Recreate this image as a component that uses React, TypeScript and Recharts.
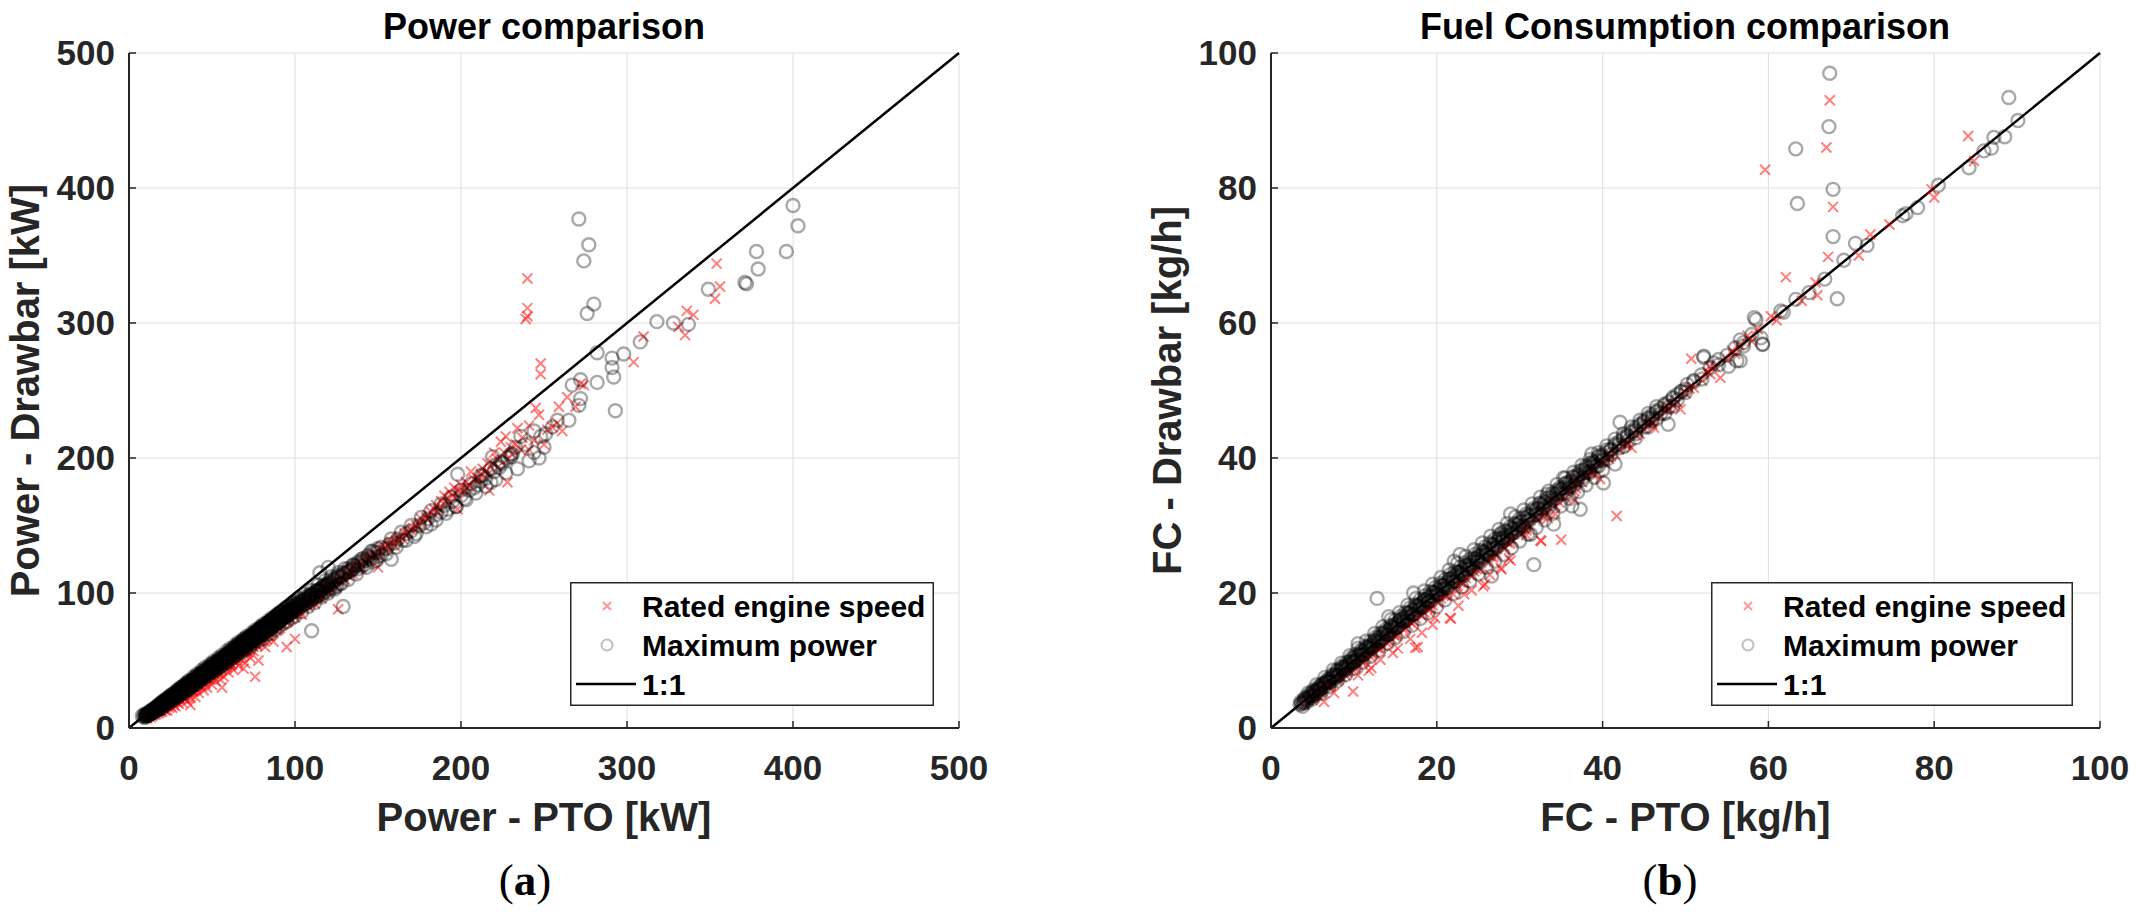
import React from "react";
import {
  ScatterChart,
  Scatter,
  XAxis,
  YAxis,
  CartesianGrid,
  ReferenceLine,
  Legend,
} from "recharts";

const FONT = '"Liberation Sans", Arial, Helvetica, sans-serif';
const AXIS_COLOR = "#262626";

const POWER_TICKS = [0, 100, 200, 300, 400, 500];
const FC_TICKS = [0, 20, 40, 60, 80, 100];
const LEGEND_LABELS = ["Rated engine speed", "Maximum power", "1:1"];

// [PTO, Drawbar] in kW
const POWER_RATED: [number, number][] = [
  [10, 8], [11, 7], [12, 9], [13, 8], [14, 11], [14, 9], [15, 10], [16, 12], [16, 10], [17, 11],
  [18, 13], [18, 11], [19, 12], [20, 15], [20, 12], [21, 14], [22, 16], [22, 13], [23, 13], [24, 18],
  [24, 15], [25, 16], [26, 15], [26, 20], [27, 19], [27, 17], [28, 16], [29, 22], [29, 19], [30, 18],
  [30, 24], [31, 21], [32, 19], [32, 25], [33, 26], [33, 22], [34, 22], [35, 20], [35, 28], [36, 25],
  [36, 29], [37, 22], [37, 17], [38, 30], [38, 27], [39, 27], [40, 23], [40, 33], [41, 29], [41, 35],
  [42, 26], [43, 35], [43, 31], [44, 31], [45, 28], [45, 38], [46, 33], [46, 36], [47, 30], [48, 40],
  [48, 36], [49, 36], [50, 32], [50, 42], [51, 38], [52, 35], [52, 44], [53, 44], [54, 40], [55, 36],
  [55, 47], [56, 30], [56, 43], [57, 38], [58, 49], [59, 45], [60, 41], [60, 52], [61, 48], [62, 47],
  [63, 43], [64, 55], [65, 50], [66, 46], [67, 57], [68, 53], [69, 44], [70, 48], [70, 60], [71, 55],
  [72, 56], [73, 52], [74, 63], [75, 57], [76, 66], [76, 38], [77, 62], [78, 50], [79, 68], [80, 64],
  [81, 71], [82, 60], [83, 73], [84, 68], [85, 76], [86, 70], [87, 64], [88, 78], [90, 73], [91, 80],
  [92, 76], [94, 83], [95, 60], [96, 79], [98, 86], [100, 82], [100, 66], [102, 88], [104, 84], [106, 92],
  [108, 90], [110, 94], [112, 92], [114, 100], [116, 96], [118, 104], [120, 100], [122, 108], [125, 104], [126, 88],
  [128, 112], [130, 110], [132, 116], [135, 114], [137, 121], [140, 118], [143, 126], [145, 124], [148, 128], [150, 119],
  [152, 134], [155, 131], [158, 138], [160, 135], [163, 142], [165, 140], [168, 145], [170, 147], [173, 150], [176, 155],
  [180, 158], [182, 160], [185, 165], [188, 168], [190, 172], [193, 175], [196, 178], [198, 162], [200, 180], [203, 182],
  [206, 190], [210, 185], [213, 192], [216, 196], [217, 176], [220, 204], [224, 212], [227, 216], [228, 182], [231, 203],
  [234, 222], [239, 303], [240, 305], [240, 311], [240, 333], [241, 224], [241, 206], [245, 237], [247, 232], [248, 262],
  [248, 270], [250, 210], [255, 223], [259, 238], [261, 220], [264, 245], [269, 238], [272, 255], [274, 254], [304, 271],
  [310, 290], [331, 297], [335, 291], [336, 309], [340, 306], [353, 318], [354, 344], [356, 327],
];

// red crosses hidden inside the dense part of the band
const POWER_RATED_BAND: [number, number][] = [
  [12, 10], [14, 12], [15, 12], [17, 13], [19, 15], [21, 16], [23, 17], [25, 19], [27, 21], [28, 20],
  [30, 22], [31, 24], [33, 24], [34, 27], [36, 27], [38, 28], [39, 31], [41, 31], [42, 33], [44, 34],
  [46, 35], [47, 37], [49, 38], [51, 40], [53, 41], [54, 43], [56, 44], [58, 45], [59, 47], [61, 46],
  [63, 50], [65, 52], [67, 51], [69, 55], [71, 57], [73, 58], [75, 60], [77, 61], [79, 63], [81, 65],
  [83, 66], [85, 68], [87, 71], [89, 72], [91, 74], [93, 77], [95, 78], [97, 81], [99, 84], [101, 85],
  [103, 87], [105, 89], [107, 91], [109, 93], [111, 95], [113, 97], [115, 99], [117, 102], [119, 103], [121, 105],
  [123, 107], [127, 110], [131, 114], [134, 118], [138, 120], [142, 123], [146, 127], [150, 131], [154, 134], [157, 137],
  [161, 139], [166, 144], [171, 148], [175, 152], [179, 156], [184, 162], [187, 163], [192, 170], [195, 172], [199, 176],
  [202, 175], [205, 180], [208, 184], [212, 188], [215, 190], [219, 196], [222, 199], [226, 204], [230, 208], [233, 210],
  [237, 215], [62, 52], [66, 57], [72, 62], [78, 66], [84, 72], [90, 78], [96, 83], [102, 87], [108, 94],
  [114, 97], [120, 104], [126, 109], [132, 113], [138, 119], [144, 125], [150, 128], [156, 135], [162, 140], [168, 144],
  [174, 149], [180, 155], [186, 160], [192, 166], [198, 172], [204, 178], [210, 183], [216, 188], [222, 193], [228, 199],
  [236, 206], [244, 213], [252, 221], [258, 226],
];

const POWER_MAX: [number, number][] = [
  [8, 9], [9, 8], [9, 10], [10, 10], [10, 8], [11, 9], [11, 11], [12, 11], [12, 10], [13, 11],
  [13, 13], [14, 12], [14, 13], [15, 13], [15, 14], [16, 14], [16, 13], [17, 15], [17, 16], [18, 16],
  [18, 15], [19, 17], [19, 16], [20, 18], [20, 16], [21, 19], [21, 18], [22, 19], [22, 20], [23, 21],
  [23, 19], [24, 21], [24, 20], [25, 23], [25, 21], [26, 23], [26, 22], [27, 24], [27, 23], [28, 25],
  [28, 23], [29, 26], [29, 24], [30, 27], [30, 25], [31, 28], [31, 26], [32, 28], [32, 30], [33, 29],
  [33, 27], [34, 31], [34, 29], [35, 32], [35, 30], [36, 32], [36, 30], [37, 33], [37, 31], [38, 34],
  [38, 32], [39, 35], [39, 33], [40, 36], [40, 34], [41, 37], [41, 35], [42, 38], [42, 36], [43, 38],
  [43, 40], [44, 40], [44, 38], [45, 41], [45, 39], [46, 41], [46, 40], [47, 43], [47, 41], [48, 43],
  [48, 41], [49, 44], [49, 42], [50, 46], [50, 44], [51, 46], [51, 44], [52, 47], [52, 45], [53, 48],
  [53, 46], [54, 49], [54, 47], [55, 50], [55, 48], [56, 51], [56, 49], [57, 52], [57, 50], [58, 53],
  [58, 51], [59, 54], [59, 52], [60, 55], [60, 53], [61, 56], [62, 55], [62, 57], [63, 58], [64, 57],
  [64, 59], [65, 60], [66, 59], [66, 61], [67, 61], [68, 60], [68, 63], [69, 63], [70, 62], [70, 64],
  [71, 65], [72, 63], [72, 66], [73, 66], [74, 66], [74, 68], [75, 68], [76, 67], [76, 70], [77, 70],
  [78, 69], [78, 71], [79, 71], [80, 72], [80, 70], [81, 74], [82, 72], [83, 75], [84, 76], [84, 73],
  [85, 76], [86, 78], [87, 77], [88, 80], [88, 77], [89, 79], [90, 82], [91, 80], [92, 83], [93, 84],
  [94, 83], [95, 86], [96, 85], [97, 87], [98, 88], [99, 86], [100, 90], [101, 89], [102, 92], [104, 91],
  [105, 94], [106, 92], [108, 95], [109, 97], [110, 96], [110, 72], [112, 99], [113, 98], [115, 101], [115, 115],
  [117, 103], [119, 105], [120, 107], [120, 119], [122, 106], [124, 109], [126, 111], [128, 112], [129, 90], [131, 115],
  [133, 116], [135, 118], [138, 121], [140, 120], [142, 124], [145, 126], [147, 123], [150, 130], [152, 128], [155, 133],
  [157, 136], [158, 125], [160, 137], [162, 140], [165, 139], [167, 144], [170, 146], [172, 142], [175, 150], [178, 152],
  [180, 155], [182, 151], [185, 158], [188, 160], [190, 165], [192, 162], [195, 168], [197, 164], [198, 188], [200, 172],
  [202, 170], [205, 176], [208, 178], [210, 180], [212, 183], [213, 187], [215, 185], [218, 182], [219, 201], [220, 190],
  [222, 195], [223, 193], [225, 196], [228, 200], [230, 203], [231, 203], [233, 208], [234, 192], [236, 216], [239, 210],
  [241, 198], [244, 204], [244, 220], [247, 200], [248, 216], [250, 208], [251, 218], [255, 223], [258, 228], [265, 228],
  [267, 254], [271, 239], [272, 244], [272, 258], [274, 346], [276, 307], [280, 314], [271, 377], [277, 358], [282, 256],
  [282, 278], [291, 274], [291, 267], [292, 260], [293, 235], [298, 277], [308, 286], [318, 301], [328, 300], [337, 299],
  [349, 325], [371, 330], [372, 329], [378, 353], [379, 340], [396, 353], [400, 387], [403, 372],
];

// circles that make the solid black part of the band
const POWER_MAX_BAND: [number, number][] = [
  [10, 9.5], [10.5, 9], [11, 10.5], [11.5, 10], [12, 11.5], [12.5, 10.5], [13, 12], [13.5, 12.5], [14, 11.5], [14.5, 13.5],
  [15, 14], [15.5, 13], [16, 15], [16.5, 14.5], [17, 14], [17.5, 16.5], [18, 17], [18.5, 15.5], [19, 18], [19.5, 17],
  [20, 19], [20.5, 17.5], [21, 20], [21.5, 18.5], [22, 21], [22.5, 19.5], [23, 22], [23.5, 20], [24, 23], [24.5, 21.5],
  [25, 24], [25.5, 22], [26, 24.5], [26.5, 23], [27, 25.5], [27.5, 24], [28, 26.5], [28.5, 24.5], [29, 27.5], [29.5, 25.5],
  [30, 28.5], [30.5, 26], [31, 29], [31.5, 27.5], [32, 30.5], [32.5, 28], [33, 31], [33.5, 29.5], [34, 32], [34.5, 30],
  [35, 33], [35.5, 31], [36, 34], [36.5, 32], [37, 35], [37.5, 33], [38, 35.5], [38.5, 33.5], [39, 36.5], [39.5, 34.5],
  [40, 37.5], [40.5, 35], [41, 38.5], [41.5, 36.5], [42, 39], [42.5, 37], [43, 40.5], [43.5, 38], [44, 41.5], [44.5, 39],
  [45, 42], [45.5, 40], [46, 43], [46.5, 41], [47, 44], [47.5, 42], [48, 45], [48.5, 42.5], [49, 46], [49.5, 43.5],
  [50, 47], [50.5, 44.5], [51, 48], [51.5, 45], [52, 48.5], [52.5, 46], [53, 49.5], [53.5, 47], [54, 50.5], [54.5, 48],
  [55, 51.5], [55.5, 48.5], [56, 52], [56.5, 49.5], [57, 53], [57.5, 50.5], [58, 54], [58.5, 51], [59, 55], [59.5, 52.5],
  [60, 56], [60.5, 53], [61, 57], [61.5, 54], [62, 58], [62.5, 55], [63, 59], [63.5, 56], [64, 60], [64.5, 56.5],
  [65, 61], [65.5, 57.5], [66, 62], [66.5, 58.5], [67, 63], [67.5, 59], [68, 64], [68.5, 60], [69, 65], [69.5, 61],
  [70, 66], [70.5, 61.5], [71, 66.5], [71.5, 62.5], [72, 67.5], [72.5, 63.5], [73, 68], [73.5, 64.5], [74, 69], [74.5, 65],
  [75, 70], [75.5, 66], [76, 71], [76.5, 67], [77, 72], [77.5, 68], [78, 73], [78.5, 68.5], [79, 74], [79.5, 69.5],
  [80, 75], [80.5, 70.5], [81, 75.5], [81.5, 71], [82, 76.5], [82.5, 72], [83, 77.5], [83.5, 73], [84, 78], [84.5, 74],
  [85, 79], [85.5, 75], [86, 80], [86.5, 75.5], [87, 81], [87.5, 76.5], [88, 82], [88.5, 77.5], [89, 83], [89.5, 78],
  [90, 84], [90.5, 79], [91, 84.5], [91.5, 80], [92, 85.5], [92.5, 81], [93, 86.5], [93.5, 81.5], [94, 87], [94.5, 82.5],
  [95, 88], [95.5, 83.5], [96, 89], [96.5, 84], [97, 90], [97.5, 85], [98, 91], [98.5, 86], [99, 91.5], [99.5, 87],
  [100, 92.5], [101, 88], [102, 94], [103, 89.5], [104, 95], [105, 91], [106, 96.5], [107, 92.5], [108, 98], [109, 94],
  [110, 99.5], [111, 95.5], [112, 101], [113, 97], [114, 102], [115, 98.5], [116, 104], [117, 100], [118, 105], [119, 101.5],
  [120, 106], [121, 103], [122, 108], [123, 104], [124, 110], [125, 105], [126, 112], [127, 107], [128, 113], [130, 114],
  [132, 116], [134, 117], [136, 120], [138, 118], [140, 123], [142, 121], [144, 127], [146, 125], [148, 130], [150, 127],
];

// the upper and lower edges of the black band
const POWER_MAX_SPREAD: [number, number][] = [
  [15, 11.5], [16, 15.5], [18, 14], [19, 18.5], [20, 14.5], [21, 20.5], [23, 18], [24, 22.5], [25, 20], [26, 25],
  [28, 22], [29, 28], [30, 23.5], [31, 30], [33, 26], [34, 33], [35, 28], [36, 35], [38, 31], [39, 38],
  [40, 32], [41, 40], [43, 35], [44, 43], [45, 37], [46, 45], [48, 39], [49, 47.5], [50, 41], [51, 49.5],
  [53, 43.5], [54, 52], [55, 45], [56, 54], [58, 47.5], [59, 57], [60, 49], [61, 59], [63, 52], [64, 61.5],
  [65, 54], [66, 63.5], [68, 56], [69, 66], [70, 58], [71, 68], [73, 60], [74, 70.5], [75, 62], [76, 72.5],
  [78, 64.5], [79, 75], [80, 66], [81, 77], [83, 69], [84, 79.5], [85, 70], [86, 81.5], [88, 73], [89, 84],
  [90, 75], [91, 86], [93, 77.5], [94, 88.5], [95, 79], [96, 90], [98, 81.5], [99, 93], [100, 83], [102, 96],
  [104, 86], [106, 99], [108, 90], [110, 102], [112, 93], [114, 106], [116, 97], [118, 109], [120, 100], [122, 112],
  [124, 103], [126, 115], [128, 107], [130, 118], [132, 110], [135, 121], [137, 114], [140, 125], [143, 119], [146, 131],
  [149, 124], [152, 134], [155, 129], [158, 140], [161, 134], [164, 145], [167, 139], [170, 150], [173, 144], [176, 156],
  [179, 149], [182, 161], [185, 154], [188, 166], [191, 159], [194, 171], [197, 164], [200, 176], [203, 169], [206, 181],
  [209, 174], [212, 187], [215, 179], [218, 192], [221, 184], [224, 197], [227, 189], [230, 201],
];

// circles filling the middle of the band
const POWER_MAX_CORE: [number, number][] = [
  [10.2, 9.1], [11.2, 9.8], [12.2, 10.9], [13.2, 11.6], [14.2, 12.7], [15.2, 13.4], [16.2, 14.5], [17.2, 15.2], [18.2, 16.3], [19.2, 17.1],
  [20.2, 18.1], [21.2, 18.9], [22.2, 19.9], [23.2, 20.6], [24.2, 21.7], [25.2, 22.4], [26.2, 23.5], [27.2, 24.2], [28.2, 25.3], [29.2, 26.1],
  [30.2, 27.1], [31.2, 27.9], [32.2, 28.9], [33.2, 29.7], [34.2, 30.7], [35.2, 31.4], [36.2, 32.5], [37.2, 33.2], [38.2, 34.3], [39.2, 35],
  [40.2, 36.1], [41.2, 36.8], [42.2, 37.9], [43.2, 38.6], [44.2, 39.7], [45.2, 40.4], [46.2, 41.5], [47.2, 42.2], [48.2, 43.3], [49.2, 44],
  [50.2, 45.1], [51.2, 45.8], [52.2, 46.9], [53.2, 47.6], [54.2, 48.7], [55.2, 49.4], [56.2, 50.5], [57.2, 51.2], [58.2, 52.3], [59.2, 53],
  [60.2, 54.1], [61.2, 54.8], [62.2, 55.9], [63.2, 56.6], [64.2, 57.7], [65.2, 58.4], [66.2, 59.5], [67.2, 60.2], [68.2, 61.3], [69.2, 62],
  [70.2, 63.1], [71.2, 63.8], [72.2, 64.9], [73.2, 65.6], [74.2, 66.7], [75.2, 67.4], [76.2, 68.5], [77.2, 69.2], [78.2, 70.3], [79.2, 71],
  [80.2, 72.1], [81.2, 72.8], [82.2, 73.9], [83.2, 74.6], [84.2, 75.7], [85.2, 76.4], [86.2, 77.5], [87.2, 78.2], [88.2, 79.3], [89.2, 80],
  [90.2, 81.1], [91.2, 81.8], [92.2, 82.9], [93.2, 83.6], [94.2, 84.7], [95.2, 85.4], [96.2, 86.5], [97.2, 87.2], [98.2, 88.3], [99.2, 89],
  [100.5, 90.5], [102.5, 92], [104.5, 94], [106.5, 95.5], [108.5, 97.5], [110.5, 99], [112.5, 101], [114.5, 102.5], [116.5, 104.5], [118.5, 106],
  [120.5, 108], [123, 110], [126, 113], [129, 115], [132, 118], [135, 120.5], [138, 123], [141, 125.5], [144, 128], [147, 131],
  [150, 133], [12, 9.5], [14, 11], [16, 12.5], [18, 14], [20, 15.5], [22, 17.5], [24, 19], [26, 20.5], [28, 22.5],
  [30, 24], [32, 25.5], [34, 27], [36, 29], [38, 30.5], [40, 32.5], [42, 34], [44, 36], [46, 37.5], [48, 39.5],
  [50, 41.5], [52, 43], [54, 45], [56, 46.5], [58, 48.5], [60, 50.5], [62, 52], [64, 54], [66, 56], [68, 57.5],
  [70, 59.5], [72, 61.5], [74, 63], [76, 65], [78, 67], [80, 68.5], [82, 70.5], [84, 72.5], [86, 74], [88, 76],
  [90, 78],
];

const POWER_MAX_FILL: [number, number][] = [
  [10.7, 9.7], [11.7, 10.3], [12.7, 11.4], [13.7, 11.9], [14.7, 13.2], [15.7, 13.8], [16.7, 15], [17.7, 15.5], [18.7, 16.8], [19.7, 17.3],
  [20.7, 18.6], [21.7, 19.1], [22.7, 20.4], [23.7, 20.8], [24.7, 22.2], [25.7, 22.6], [26.7, 24], [27.7, 24.4], [28.7, 25.8], [29.7, 26.1],
  [30.7, 27.6], [31.7, 27.9], [32.7, 29.4], [33.7, 29.7], [34.7, 31.2], [35.7, 31.4], [36.7, 33], [37.7, 33.2], [38.7, 34.8], [39.7, 34.9],
  [40.7, 36.6], [41.7, 36.7], [42.7, 38.4], [43.7, 38.5], [44.7, 40.2], [45.7, 40.2], [46.7, 42], [47.7, 42], [48.7, 43.8], [49.7, 43.7],
  [50.7, 45.6], [51.7, 45.5], [52.7, 47.4], [53.7, 47.3], [54.7, 49.2], [55.7, 49], [56.7, 51], [57.7, 50.8], [58.7, 52.8], [59.7, 52.5],
  [60.7, 54.6], [61.7, 54.3], [62.7, 56.4], [63.7, 56.1], [64.7, 58.2], [65.7, 57.8], [66.7, 60], [67.7, 59.6], [68.7, 61.8], [69.7, 61.3],
  [70.7, 63.6], [71.7, 63.1], [72.7, 65.4], [73.7, 64.9], [74.7, 67.2], [75.7, 66.6], [76.7, 69], [77.7, 68.4], [78.7, 70.8], [79.7, 70.1],
  [80.7, 72.6], [81.7, 71.9], [82.7, 74.4], [83.7, 73.7], [84.7, 76.2], [85.7, 75.4], [86.7, 78], [87.7, 77.2], [88.7, 79.8], [89.7, 78.9],
  [90.7, 81.6], [91.7, 80.7], [92.7, 83.4], [93.7, 82.5], [94.7, 85.2], [95.7, 84.2], [96.7, 87], [97.7, 86], [98.7, 88.8], [99.7, 87.7],
  [101.5, 91], [103.5, 92], [105.5, 94.5], [107.5, 95.5], [109.5, 98], [111.5, 99], [113.5, 101.5], [115.5, 102.5], [117.5, 105], [119.5, 106],
];

// [PTO, Drawbar] in kg/h
const FC_RATED: [number, number][] = [
  [4, 3.5], [5, 4.2], [5.5, 4.9], [6, 5.2], [6.4, 3.9], [7, 6.1], [7.6, 5.2], [8, 7], [8.5, 7.5], [9, 7.8],
  [9.5, 8.5], [9.9, 5.4], [10, 8.9], [10.5, 9.4], [10.5, 7.8], [11, 9.8], [11.5, 10.4], [11.8, 8.5], [12, 10.6], [12.1, 8.9],
  [12.5, 11.2], [13, 11.8], [13.2, 10.1], [13.5, 12.1], [14, 12.6], [14.5, 13.3], [14.7, 11.1], [15, 13.6], [15.3, 11.8], [15.5, 14.2],
  [16, 14.6], [16.5, 15.2], [16.8, 13.2], [17, 15.5], [17.4, 11.9], [17.7, 12], [17.5, 16.2], [18, 16.8], [18.2, 14.1], [18.5, 17.1],
  [19, 17.8], [19.5, 15.3], [19.5, 18.2], [19.8, 16.3], [20, 18.8], [20.5, 19.2], [21, 19.7], [21.6, 16.3], [21.7, 16.2], [22, 19.8],
  [22.5, 21.1], [22.6, 18.1], [23, 21.6], [23.3, 19.8], [23.5, 22.2], [24, 22.7], [24.2, 20.4], [24.5, 23.2], [25, 23.8], [25.6, 21],
  [25.8, 21.3], [26, 24.8], [26.4, 22.7], [26.5, 25.4], [27, 25.9], [27.7, 23.7], [27.8, 23.5], [28, 26.9], [28.5, 27.5], [28.7, 25.1],
  [28.9, 24.8], [29, 28], [30, 29], [30.5, 29.6], [30.8, 28.6], [31, 30.1], [32, 31.2], [32.5, 27.8], [32.6, 27.7], [33, 32.3],
  [33.4, 31.1], [34, 33.3], [34.3, 31.7], [35, 27.9], [35, 34.3], [36, 35.3], [36.6, 33.8], [37, 36.2], [38, 37.3], [38.5, 37.9],
  [39, 38.4], [39.7, 36.9], [40, 39.4], [41, 40.3], [41.7, 31.4], [42, 41.3], [43, 42.3], [43.5, 41.5], [44, 43.4], [45, 44.3],
  [46, 45.3], [46.2, 44.5], [47, 46.2], [47.8, 47.1], [48, 47.4], [49, 48.3], [49.4, 47.2], [50, 49.6], [50.7, 54.7], [51, 50.4],
  [52, 51.5], [52.6, 52.8], [52.9, 53.6], [53, 52.4], [54.2, 51.9], [55, 54.5], [55.6, 55.9], [56, 55.4], [57.5, 58.1], [58, 57.3],
  [58.7, 59.1], [59.6, 82.7], [60.3, 61], [61, 60.4], [62.1, 66.8], [64, 63.3], [65.7, 66], [65.9, 64.1], [67, 86], [67.2, 69.8],
  [67.4, 93], [67.8, 77.2], [70.9, 70], [72.3, 73.1], [74.6, 74.6], [79.7, 79.8], [80, 78.6], [84.1, 87.7], [84.8, 84],
];

const FC_RATED_BAND: [number, number][] = [
  [5.2, 4.5], [6.2, 5.4], [7.2, 6.3], [8.2, 7.2], [9.2, 8.2], [10.2, 9], [11.2, 9.9], [12.2, 10.9], [13.2, 11.8], [14.2, 12.8],
  [15.2, 13.7], [16.2, 14.8], [17.2, 15.8], [18.2, 16.6], [19.2, 17.6], [20.2, 18.5], [21.2, 19.6], [22.2, 20.5], [23.2, 21.4], [24.2, 22.6],
  [25.2, 23.5], [26.2, 24.6], [27.2, 25.6], [28.2, 26.6], [29.2, 27.7], [30.2, 28.8], [31.2, 29.9], [32.2, 30.9], [33.2, 31.8], [34.2, 32.9],
  [35.5, 34.1], [36.5, 35.2], [37.5, 36.4], [38.8, 37.6], [40.3, 39.2], [41.5, 40.6], [43, 42], [44.5, 43.6], [46, 45], [48.5, 47.8],
  [6.8, 6.5], [8.8, 8.2], [10.8, 10.1], [12.8, 11.9], [14.8, 13.8], [16.8, 15.7], [18.8, 17.7], [20.8, 19.6], [22.8, 21.6], [24.8, 23.5],
  [26.8, 25.3], [28.8, 27.3], [30.8, 29.3], [32.8, 31.4], [34.8, 33.4], [36.8, 35.5], [38.8, 37.8], [40.8, 39.9], [42.8, 41.9], [45.5, 45],
  [47.5, 47.2], [50.5, 50.3], [53.5, 53.6], [56.5, 56.7],
];

const FC_MAX: [number, number][] = [
  [3.5, 3.5], [3.8, 3.2], [4, 4.2], [4.3, 3.8], [4.6, 4.5], [5, 5.3], [5.2, 4.8], [5.5, 5.6], [5.8, 5.4], [6, 6.3],
  [6.3, 6], [6.6, 6.8], [7, 7.2], [7.2, 6.8], [7.5, 7.8], [7.8, 7.5], [8, 8.4], [8.3, 8], [8.6, 9], [9, 9.2],
  [9.2, 8.8], [9.5, 9.9], [9.8, 9.5], [10, 10.5], [10.3, 10], [10.5, 12.5], [10.8, 11], [11, 11.4], [11.3, 10.9], [11.6, 12],
  [12, 12.3], [12.2, 11.8], [12.5, 13], [12.8, 19.2], [13, 13.4], [13.3, 12.9], [13.6, 14.2], [14, 14.3], [14.2, 16.5], [14.3, 13.9],
  [14.6, 15.1], [15, 15.4], [15.3, 14.9], [15.6, 16.1], [16, 16.3], [16.3, 15.9], [16.6, 17.1], [17, 17.4], [17.2, 20], [17.3, 16.9],
  [17.6, 18.1], [18, 18.3], [18.3, 17.9], [18.6, 19], [19, 19.4], [19.3, 18.9], [19.6, 20.1], [20, 20.3], [20.3, 19.8], [20.6, 21.1],
  [21, 21.3], [21.3, 20.7], [21.6, 22.1], [22, 22.4], [22.1, 24.7], [22.3, 21.7], [22.6, 23.1], [22.8, 25.7], [23, 23.3], [23.3, 22.6],
  [23.6, 24], [24, 24.3], [24.3, 23.6], [24.6, 25], [25, 25.4], [25.3, 24.6], [25.6, 26], [26, 26.3], [26.3, 25.6], [26.6, 22.5],
  [26.8, 27.2], [27.2, 26.6], [27.5, 28], [27.8, 28.9], [28, 28.2], [28.5, 28], [28.9, 31.7], [29, 29.4], [29.5, 29], [30, 30.5],
  [30.5, 29.8], [31, 31.4], [31.3, 28.7], [31.7, 24.2], [32, 32.4], [32.5, 31.8], [33, 33.5], [33.3, 34.6], [33.6, 32.8], [34.1, 30.2],
  [34.5, 34.8], [35, 35.4], [35.3, 37.1], [35.6, 34.9], [36, 36.4], [36.3, 32.9], [36.6, 36], [37, 37.4], [37.3, 32.4], [37.6, 36.8],
  [38, 38.5], [38.4, 37.8], [38.7, 40.6], [39, 39.3], [39.5, 38.8], [40, 40.4], [40.1, 36.3], [40.5, 39.8], [41, 41.3], [41.5, 39.1],
  [42, 42.4], [42.1, 45.3], [42.5, 41.7], [43, 43.2], [44, 43], [44, 44.5], [45, 45.3], [45.5, 44.6], [46, 46.4], [46.5, 45.8],
  [47, 47.3], [47.5, 46.6], [47.9, 45], [48, 48.3], [48.5, 47.7], [49, 49.4], [50, 50.2], [50.2, 50.9], [51, 51.3], [51.9, 52.3],
  [52.2, 55.1], [52.2, 54.9], [53.4, 54.1], [54, 53.8], [55.2, 53.6], [56.2, 54.4], [56.6, 54.4], [56.6, 57.5], [57, 57.1], [58.3, 60.8],
  [58.5, 60.5], [59.1, 57.8], [59.3, 56.9], [59.3, 56.8], [61.5, 61.8], [61.8, 61.6], [63.3, 63.5], [63.3, 85.8], [63.5, 77.7], [64.9, 64.5],
  [66.8, 66.5], [67.3, 89.1], [67.4, 97], [67.8, 79.8], [67.8, 72.8], [68.3, 63.6], [69.1, 69.3], [70.5, 71.8], [71.9, 71.5], [76.2, 75.9],
  [76.6, 76.2], [78, 77.1], [80.5, 80.4], [84.2, 83], [86, 85.5], [86.9, 85.9], [87.2, 87.5], [88.5, 87.6], [89, 93.4], [90.1, 90],
];

const FC_MAX_BAND: [number, number][] = [
  [3.6, 3.9], [3.9, 3.7], [4.1, 4.5], [4.4, 4.1], [4.7, 5], [4.9, 4.6], [5.1, 5.6], [5.4, 5.1], [5.7, 6], [5.9, 5.7],
  [6.2, 6.6], [6.5, 6.2], [6.8, 7.2], [7.1, 6.9], [7.4, 7.9], [7.7, 7.3], [8, 8.6], [8.2, 7.8], [8.5, 9.1], [8.8, 8.5],
  [9.1, 9.7], [9.4, 9.2], [9.7, 10.3], [10, 9.8], [10.2, 10.9], [10.5, 10.2], [10.8, 11.5], [11.1, 10.8], [11.4, 12.1], [11.7, 11.4],
  [12, 12.8], [12.3, 12.1], [12.6, 13.4], [12.9, 12.6], [13.2, 14], [13.5, 13.3], [13.8, 14.6], [14.1, 13.8], [14.4, 15.2], [14.7, 14.5],
  [15, 16], [15.3, 15.1], [15.6, 16.5], [15.9, 15.7], [16.2, 17.1], [16.5, 16.3], [16.8, 17.8], [17.1, 16.8], [17.4, 18.3], [17.7, 17.5],
  [18, 19], [18.3, 18.1], [18.6, 19.6], [18.9, 18.6], [19.2, 20.2], [19.5, 19.4], [19.8, 20.8], [20.1, 19.9], [20.4, 21.4], [20.7, 20.5],
  [21, 22], [21.3, 21.1], [21.6, 22.7], [21.9, 21.6], [22.2, 23.2], [22.5, 22.3], [22.8, 23.8], [23.1, 22.8], [23.4, 24.5], [23.7, 23.5],
  [24, 25], [24.3, 24.1], [24.6, 25.7], [24.9, 24.6], [25.2, 26.3], [25.5, 25.3], [25.8, 26.8], [26.1, 25.8], [26.4, 27.4], [26.7, 26.4],
  [27, 28], [27.3, 27], [27.6, 28.6], [27.9, 27.6], [28.2, 29.2], [28.5, 28.3], [28.8, 29.7], [29.1, 28.8], [29.4, 30.3], [29.7, 29.4],
  [30, 31], [30.4, 30], [30.8, 31.7], [31.2, 30.8], [31.6, 32.5], [32, 31.6], [32.4, 33.3], [32.8, 32.4], [33.2, 34], [33.6, 33.2],
  [34, 34.8], [34.4, 34], [34.8, 35.6], [35.2, 34.7], [35.6, 36.3], [36, 35.5], [36.4, 37.2], [36.8, 36.4], [37.2, 38], [37.6, 37.2],
  [38, 38.8], [38.4, 38], [38.8, 39.5], [39.2, 38.7], [39.6, 40.4], [40, 39.6], [40.5, 41.2], [41, 40.5], [41.5, 42.1], [42, 41.5],
  [42.5, 43.1], [43, 42.5], [43.5, 44], [44, 43.6], [44.5, 45], [45, 44.6], [45.5, 46], [46, 45.6], [46.5, 47], [47, 46.6],
  [47.5, 48], [48, 47.6], [48.5, 49], [49, 48.6], [49.5, 49.9], [50, 49.7], [51, 51.5], [52, 51.7], [53, 53.4], [54, 54.6],
  [55, 55.2], [56, 56.3], [57, 56.6], [58, 58.3],
];

const FC_MAX_SPREAD: [number, number][] = [
  [4.5, 5.2], [5.5, 6.4], [6.5, 7.5], [7.5, 8.6], [8.5, 9.6], [9.5, 10.7], [10.5, 11.8], [11.5, 12.9], [12.5, 14], [13.5, 15],
  [14.5, 16.1], [15.5, 17.1], [16.5, 18.2], [17.5, 19.2], [18.5, 20.3], [19.5, 21.3], [20.5, 22.3], [21.5, 23.4], [22.5, 24.4], [23.5, 25.4],
  [24.5, 26.4], [25.5, 27.4], [26.5, 28.4], [27.5, 29.4], [28.5, 30.3], [29.5, 31.3], [30.5, 32.3], [31.5, 33.2], [32.5, 34.2], [33.5, 35.1],
  [34.5, 36.1], [35.5, 37], [36.5, 37.9], [37.5, 38.9], [38.5, 39.8], [39.5, 40.8], [40.5, 41.8], [41.5, 42.8], [42.5, 43.6], [43.5, 44.6],
  [44.5, 45.6], [45.5, 46.6], [46.5, 47.6], [5, 4.3], [6, 5.1], [7, 6.1], [8, 7], [9, 7.9], [10, 8.8], [11, 9.7],
  [12, 10.6], [13, 11.5], [14, 12.5], [15, 13.4], [16, 14.3], [17, 15.2], [18, 16.2], [19, 17.1], [20, 18], [21, 19],
  [22, 19.9], [23, 20.9], [24, 21.8], [25, 22.8], [26, 23.8], [27, 24.7], [28, 25.7], [29, 26.7], [30, 27.7], [31, 28.7],
  [32, 29.7], [33, 30.8], [34, 31.8], [35, 32.9], [36, 34], [37, 35], [38, 36], [39, 37.1], [40, 38.2],
];

const FC_MAX_CORE: [number, number][] = [
  [3.7, 3.6], [4.2, 4.3], [4.8, 4.8], [5.3, 5.4], [5.8, 5.9], [6.3, 6.4], [6.8, 6.9], [7.3, 7.4], [7.8, 7.9], [8.3, 8.4],
  [8.8, 8.9], [9.3, 9.4], [9.8, 9.9], [10.3, 10.4], [10.8, 10.9], [11.3, 11.5], [11.8, 12], [12.3, 12.5], [12.8, 13], [13.3, 13.5],
  [13.8, 14], [14.3, 14.5], [14.8, 15], [15.3, 15.6], [15.8, 16.1], [16.3, 16.6], [16.8, 17.1], [17.3, 17.6], [17.8, 18.1], [18.3, 18.6],
  [18.8, 19.1], [19.3, 19.6], [19.8, 20.1], [20.3, 20.6], [20.8, 21.1], [21.3, 21.6], [21.8, 22.1], [22.3, 22.6], [22.8, 23.1], [23.3, 23.6],
  [23.8, 24.1], [24.3, 24.6], [24.8, 25.1], [25.3, 25.6], [25.8, 26.1], [26.3, 26.6], [26.8, 27.1], [27.3, 27.6], [27.8, 28.1], [28.3, 28.6],
  [28.8, 29.1], [29.3, 29.6], [29.8, 30.1], [30.3, 30.6], [30.8, 31.1], [31.3, 31.6], [31.8, 32.1], [32.3, 32.6], [32.8, 33.1], [33.3, 33.6],
  [33.8, 34.1], [34.3, 34.6], [34.8, 35.1], [35.3, 35.6], [35.8, 36.1], [36.3, 36.6], [36.8, 37.1], [37.3, 37.6], [37.8, 38.1], [38.3, 38.6],
  [38.8, 39.1], [39.3, 39.6], [39.8, 40.1], [40.5, 40.8], [41.5, 41.8], [42.5, 42.8], [43.5, 43.8], [44.5, 44.8], [45.5, 45.8], [46.5, 46.8],
  [47.5, 47.8], [48.5, 48.8], [49.5, 49.8],
];

const FC_MAX_FILL: [number, number][] = [
  [4, 3.9], [4.5, 4.6], [5, 4.9], [5.5, 5.5], [6, 5.8], [6.5, 6.6], [7, 6.8], [7.5, 7.6], [8, 7.8], [8.5, 8.7],
  [9, 8.8], [9.5, 9.7], [10, 9.8], [10.5, 10.8], [11, 10.8], [11.5, 11.8], [12, 11.8], [12.5, 12.8], [13, 12.8], [13.5, 13.9],
  [14, 13.8], [14.5, 14.9], [15, 14.8], [15.5, 15.9], [16, 15.8], [16.5, 17], [17, 16.8], [17.5, 18], [18, 17.8], [18.5, 19],
  [19, 18.8], [19.5, 20.1], [20, 19.8], [20.5, 21.1], [21, 20.8], [21.5, 22.1], [22, 21.8], [22.5, 23.1], [23, 22.8], [23.5, 24.2],
  [24, 23.8], [24.5, 25.2], [25, 24.8], [25.5, 26.2], [26, 25.8], [26.5, 27.2], [27, 26.8], [27.5, 28.2], [28, 27.8], [28.5, 29.2],
  [29, 28.8], [29.5, 30.2], [30, 29.8], [30.5, 31.2], [31, 30.8], [31.5, 32.2], [32, 31.8], [32.5, 33.2], [33, 32.8], [33.5, 34.2],
  [34, 33.8], [34.5, 35.2], [35, 34.8], [35.5, 36.2], [36, 35.8], [36.5, 37.2], [37, 36.8], [37.5, 38.2], [38, 37.8], [38.5, 39.2],
  [39, 38.8], [39.5, 40.2], [40, 39.8], [41, 41.2], [42, 42], [43, 43.4], [44, 44.1], [45, 45.5], [46, 46],
];

const toPoints = (pairs: [number, number][]) => pairs.map(([x, y]) => ({ x, y }));

const CrossShape = (props: any) => {
  const { cx, cy } = props;
  const s = 5;
  return (
    <path
      d={`M${cx - s},${cy - s}L${cx + s},${cy + s}M${cx - s},${cy + s}L${cx + s},${cy - s}`}
      stroke="rgba(255,0,0,0.5)"
      strokeWidth={2}
      fill="none"
    />
  );
};

const CircleShape = (props: any) => (
  <circle cx={props.cx} cy={props.cy} r={6.5} fill="none" stroke="rgba(0,0,0,0.34)" strokeWidth={2.4} />
);

const LEGEND_ROWS = [24, 63, 102];

const LegendBox = ({ width, height }: { width: number; height: number }) => (
  <svg width={width} height={height} style={{ display: "block" }}>
    <rect x={0.75} y={0.75} width={width - 1.5} height={height - 1.5} fill="#fff" stroke={AXIS_COLOR} strokeWidth={1.5} />
    <path d="M33,20L41,28M33,28L41,20" stroke="rgba(255,0,0,0.4)" strokeWidth={2} fill="none" />
    <circle cx={37} cy={63} r={5.5} fill="none" stroke="rgba(0,0,0,0.25)" strokeWidth={2} />
    <line x1={6} y1={102} x2={66} y2={102} stroke="#000" strokeWidth={2.5} />
    {LEGEND_LABELS.map((t, i) => (
      <text key={t} x={72} y={LEGEND_ROWS[i]} dy="0.35em" fontFamily={FONT} fontWeight={700} fontSize={30} fill="#000">
        {t}
      </text>
    ))}
  </svg>
);

type PanelProps = {
  width: number;
  yAxisWidth: number;
  plotWidth: number;
  max: number;
  ticks: number[];
  rated: [number, number][];
  maxPower: [number, number][];
  xLabel: string;
  yLabel: string;
  yLabelX: number;
  legendLeft: number;
  legendWidth: number;
};

const Panel = (p: PanelProps) => {
  const tickStyle = { fill: AXIS_COLOR, fontSize: 35, fontWeight: 700, fontFamily: FONT };
  const labelX = p.yAxisWidth + p.plotWidth / 2;
  return (
    <ScatterChart
      width={p.width}
      height={912}
      margin={{ top: 53, right: p.width - p.yAxisWidth - p.plotWidth, bottom: 114, left: 0 }}
    >
      <CartesianGrid stroke="#dedede" strokeWidth={1} />
      <XAxis
        type="number"
        dataKey="x"
        domain={[0, p.max]}
        ticks={p.ticks}
        interval={0}
        height={70}
        tickSize={-7}
        tickMargin={34}
        tick={tickStyle}
        axisLine={{ stroke: AXIS_COLOR, strokeWidth: 2 }}
        tickLine={{ stroke: AXIS_COLOR, strokeWidth: 1.5 }}
        label={() => (
          <text x={labelX} y={831} textAnchor="middle" fontFamily={FONT} fontWeight={700} fontSize={40} fill={AXIS_COLOR}>
            {p.xLabel}
          </text>
        )}
      />
      <YAxis
        type="number"
        dataKey="y"
        domain={[0, p.max]}
        ticks={p.ticks}
        interval={0}
        width={p.yAxisWidth}
        tickSize={-7}
        tickMargin={21}
        tick={tickStyle}
        axisLine={{ stroke: AXIS_COLOR, strokeWidth: 2 }}
        tickLine={{ stroke: AXIS_COLOR, strokeWidth: 1.5 }}
        label={() => (
          <text
            x={p.yLabelX}
            y={390.5}
            dy="0.355em"
            transform={`rotate(-90, ${p.yLabelX}, 390.5)`}
            textAnchor="middle"
            fontFamily={FONT}
            fontWeight={700}
            fontSize={40}
            fill={AXIS_COLOR}
          >
            {p.yLabel}
          </text>
        )}
      />
      <Scatter name="Rated engine speed" data={toPoints(p.rated)} shape={CrossShape} isAnimationActive={false} />
      <Scatter name="Maximum power" data={toPoints(p.maxPower)} shape={CircleShape} isAnimationActive={false} />
      <ReferenceLine
        segment={[
          { x: 0, y: 0 },
          { x: p.max, y: p.max },
        ]}
        stroke="#000"
        strokeWidth={2.5}
        ifOverflow="visible"
      />
      <Legend
        layout="vertical"
        align="center"
        verticalAlign="middle"
        width={p.legendWidth}
        height={124}
        wrapperStyle={{ left: p.legendLeft, top: 582, width: p.legendWidth, height: 124 }}
        content={() => <LegendBox width={p.legendWidth} height={124} />}
      />
    </ScatterChart>
  );
};

const App = () => (
  <div style={{ position: "absolute", left: 0, top: 0, width: 2138, height: 912, background: "#fff", overflow: "hidden" }}>
    <svg width={2138} height={912} style={{ position: "absolute", left: 0, top: 0 }}>
      <text x={544} y={39} textAnchor="middle" fontFamily={FONT} fontWeight={700} fontSize={36} fill="#000">
        Power comparison
      </text>
      <text x={1685} y={39} textAnchor="middle" fontFamily={FONT} fontWeight={700} fontSize={36} fill="#000">
        Fuel Consumption comparison
      </text>
      <text x={525} y={895} textAnchor="middle" fontFamily='"Liberation Serif", "DejaVu Serif", serif' fontSize={45} fill="#000">
        (<tspan fontWeight={700}>a</tspan>)
      </text>
      <text x={1670} y={895} textAnchor="middle" fontFamily='"Liberation Serif", "DejaVu Serif", serif' fontSize={45} fill="#000">
        (<tspan fontWeight={700}>b</tspan>)
      </text>
    </svg>
    <div style={{ position: "absolute", left: 0, top: 0 }}>
      <Panel
        width={1000}
        yAxisWidth={129}
        plotWidth={830}
        max={500}
        ticks={POWER_TICKS}
        rated={[...POWER_RATED, ...POWER_RATED_BAND]}
        maxPower={[...POWER_MAX, ...POWER_MAX_BAND, ...POWER_MAX_SPREAD, ...POWER_MAX_CORE, ...POWER_MAX_FILL]}
        xLabel="Power - PTO [kW]"
        yLabel="Power - Drawbar [kW]"
        yLabelX={25}
        legendLeft={570}
        legendWidth={364}
      />
    </div>
    <div style={{ position: "absolute", left: 1100, top: 0 }}>
      <Panel
        width={1038}
        yAxisWidth={171}
        plotWidth={829}
        max={100}
        ticks={FC_TICKS}
        rated={[...FC_RATED, ...FC_RATED_BAND]}
        maxPower={[...FC_MAX, ...FC_MAX_BAND, ...FC_MAX_SPREAD, ...FC_MAX_CORE, ...FC_MAX_FILL]}
        xLabel="FC - PTO [kg/h]"
        yLabel="FC - Drawbar [kg/h]"
        yLabelX={67}
        legendLeft={611}
        legendWidth={362}
      />
    </div>
  </div>
);

export default App;
